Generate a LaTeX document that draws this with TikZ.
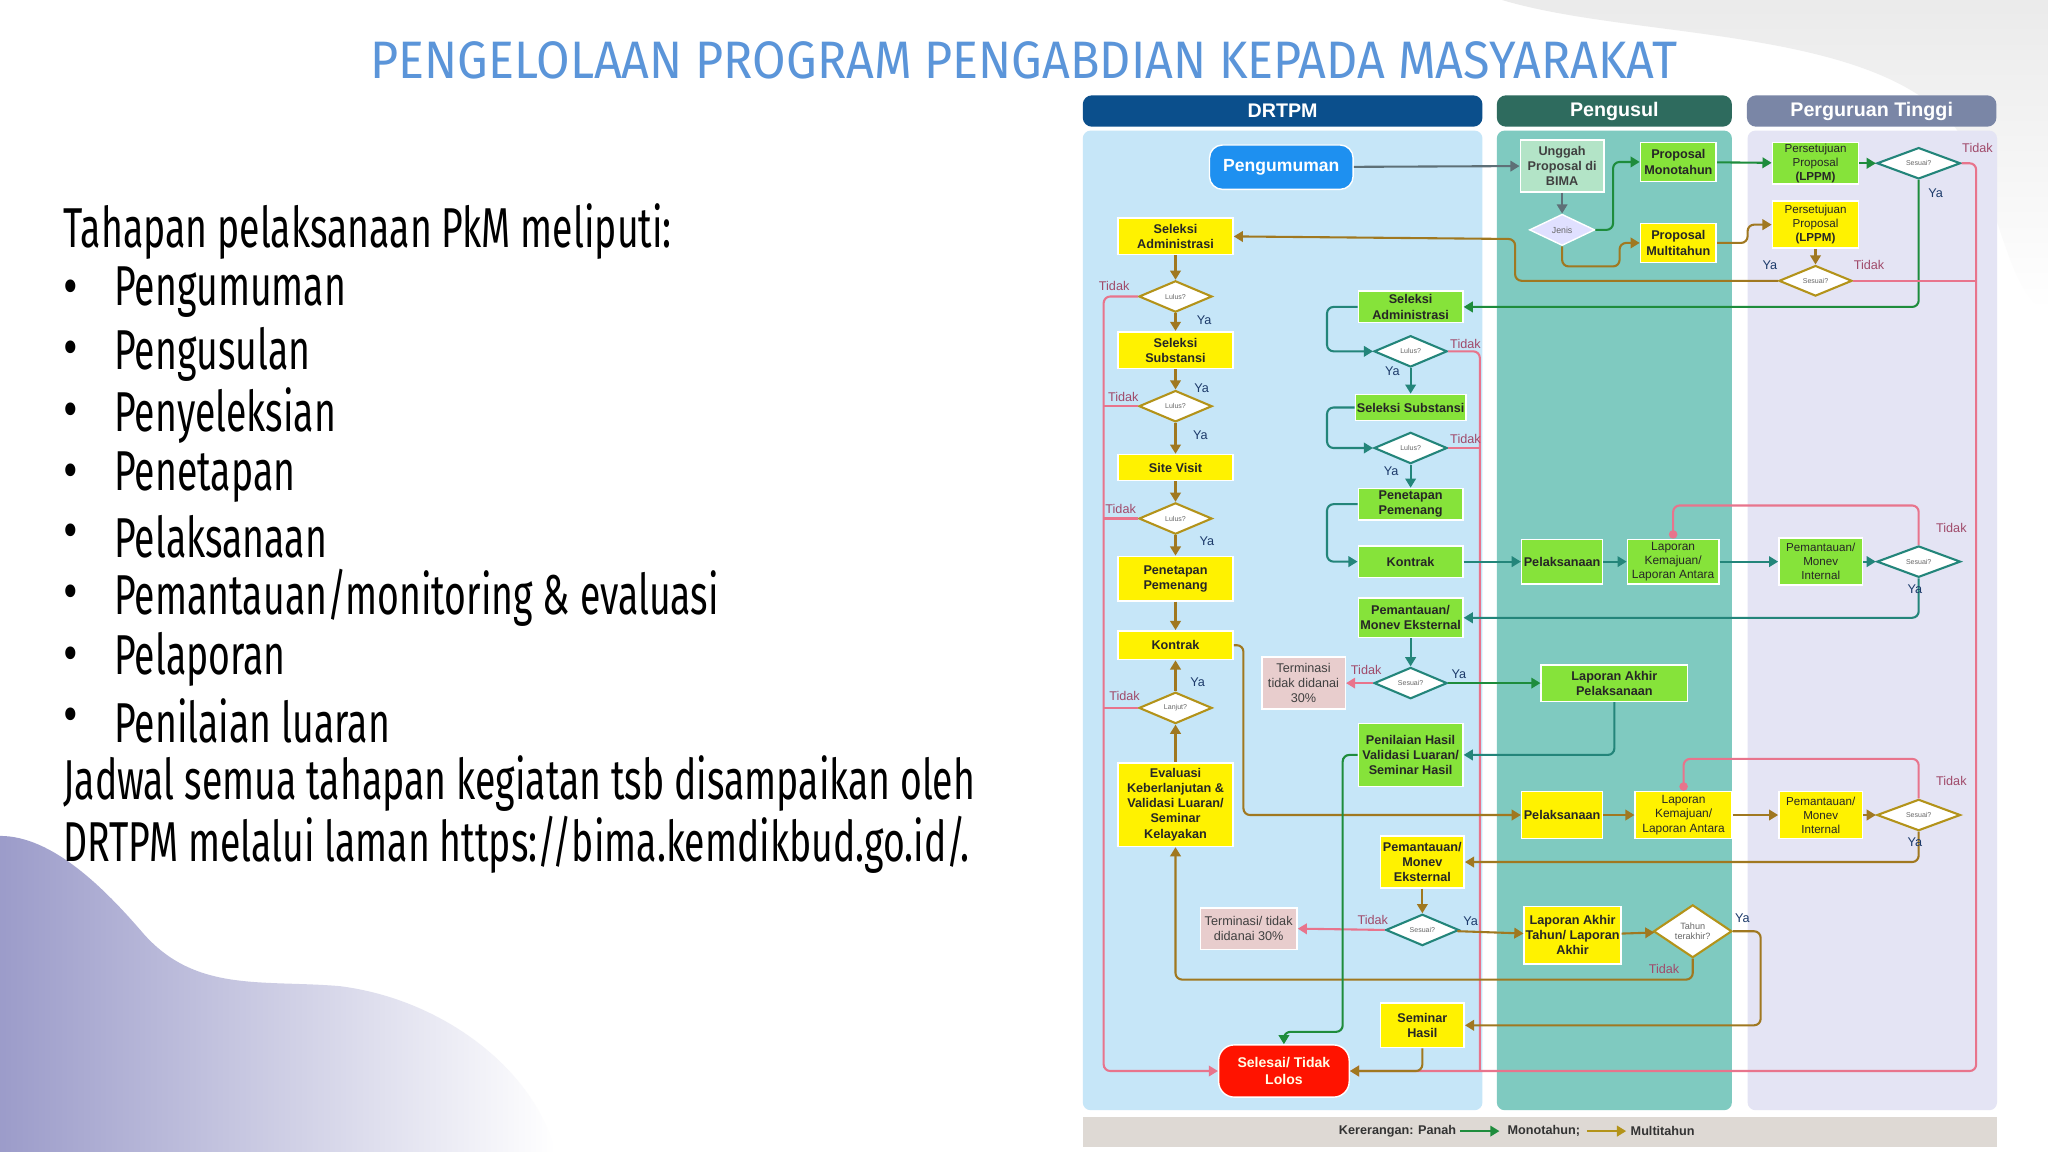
\documentclass[tikz,border=0pt]{standalone}
\usepackage{fontspec}
\usetikzlibrary{shapes.geometric,arrows.meta}
\newfontfamily\fsans{Liberation Sans}
\newfontfamily\fira{Fira Sans}
\newdimen\pu \pu=0.013061cm
\definecolor{yfill}{HTML}{FFF200}
\definecolor{gfill}{HTML}{86E33A}
\definecolor{brn}{HTML}{A07820}
\definecolor{grn}{HTML}{1E8C3C}
\definecolor{tl}{HTML}{23857A}
\definecolor{pk}{HTML}{E8748C}
\definecolor{gry}{HTML}{5E7077}
\definecolor{tidak}{HTML}{A04A6A}
\definecolor{yac}{HTML}{1C3A6A}
\definecolor{lane1}{HTML}{C6E6F8}
\definecolor{lane2}{HTML}{7FCAC0}
\definecolor{lane3}{HTML}{E4E4F4}
\definecolor{hd1}{HTML}{0B4F8C}
\definecolor{hd2}{HTML}{2E6B5E}
\definecolor{hd3}{HTML}{7A86A6}
\definecolor{ttl}{HTML}{5B95D9}
\definecolor{pgb}{HTML}{1E90F0}
\tikzset{
 nb/.style={draw=white,line width=1.2\pu,font=\fsans\bfseries\fontsize{3.6}{4.3}\selectfont,align=center,inner sep=1\pu,text=black!85},
 yb/.style={nb,fill=yfill},
 gb/.style={nb,fill=gfill},
 pb/.style={nb,fill=pink!70!gray!60,text=black!75,font=\fsans\fontsize{3.6}{4.3}\selectfont},
 dm/.style={diamond,fill=white,line width=1.6\pu,minimum width=56\pu,minimum height=24\pu,inner sep=0,font=\fsans\fontsize{2}{2.4}\selectfont,text=black!60},
 ydm/.style={dm,draw=brn!80!yellow},
 gdm/.style={dm,draw=tl},
 ln/.style={line width=1.6\pu,rounded corners=5\pu},
 ar/.style={ln,-{Triangle[length=2.6pt,width=3pt]}},
 ya/.style={font=\fsans\fontsize{3.6}{4.3}\selectfont,text=yac},
 td/.style={font=\fsans\fontsize{3.6}{4.3}\selectfont,text=tidak},
 hdr/.style={rounded corners=7\pu,text=white,font=\fsans\bfseries\fontsize{5.6}{6.5}\selectfont,minimum height=24\pu,inner sep=0},
 lt/.style={anchor=west,inner sep=0,font=\fira\fontsize{16}{19}\selectfont},
}
\begin{document}
\begin{tikzpicture}[x=0.013061cm,y=-0.013061cm]
\useasboundingbox (0,0) rectangle (1568,882);
\fill[white] (0,0) rectangle (1568,882);
% background decorations
\shade[left color=black!8,right color=white,shading angle=0] (1150,0) -- (1568,0) -- (1568,238) .. controls (1535,228) and (1530,140) .. (1495,95) .. controls (1430,20) and (1250,30) .. (1150,0) -- cycle;
\shade[left color=blue!30!gray!60,right color=white] (0,640) .. controls (40,640) and (80,680) .. (110,715) .. controls (150,760) and (200,750) .. (260,755) .. controls (340,765) and (410,820) .. (425,882) -- (0,882) -- cycle;
% title
\node[inner sep=0,text=ttl] (title) at (784,46) {\scalebox{0.92}[1]{\fira\fontsize{15}{18}\selectfont PENGELOLAAN PROGRAM PENGABDIAN KEPADA MASYARAKAT}};
% left text
\node[lt] (l0) at (48,177) {\scalebox{0.665}[1]{Tahapan pelaksanaan PkM meliputi:}};
\foreach \t/\yy [count=\i] in {Pengumuman/224,Pengusulan/271,Penyeleksian/318,Penetapan/365,Pelaksanaan/411,{Pemantauan/monitoring \& evaluasi}/458,Pelaporan/505,Penilaian luaran/552}{
 \node[lt] (b\i) at (48,\yy) {\scalebox{0.8}[1]{\textbullet}};
 \node[lt] (t\i) at (87,\yy) {\scalebox{0.665}[1]{\t}};
}
\node[lt] (l9) at (48,600) {\scalebox{0.665}[1]{Jadwal semua tahapan kegiatan tsb disampaikan oleh}};
\node[lt] (l10) at (48,647) {\scalebox{0.665}[1]{DRTPM melalui laman https://bima.kemdikbud.go.id/.}};
% lanes
\fill[lane1,rounded corners=6\pu] (829,100) rectangle (1135,850);
\fill[lane2,rounded corners=6\pu] (1146,100) rectangle (1326,850);
\fill[lane3,rounded corners=6\pu] (1338,100) rectangle (1529,850);
\node[hdr,fill=hd1,minimum width=306\pu] (h1) at (982,85) {DRTPM};
\node[hdr,fill=hd2,minimum width=180\pu] (h2) at (1236,85) {Pengusul};
\node[hdr,fill=hd3,minimum width=191\pu] (h3) at (1433,85) {Perguruan Tinggi};
\fill[brown!25!gray!30] (829,855) rectangle (1529,878);
% nodes DRTPM
\node[rounded corners=10\pu,fill=pgb,draw=white,text=white,font=\fsans\bfseries\fontsize{5}{6}\selectfont,minimum width=110\pu,minimum height=34\pu] (peng) at (981,128) {Pengumuman};
\node[yb,minimum width=88\pu,minimum height=28\pu] (sa1) at (900,181) {Seleksi\\Administrasi};
\node[ydm] (d1) at (900,227) {Lulus?};
\node[yb,minimum width=88\pu,minimum height=28\pu] (ss1) at (900,268) {Seleksi\\Substansi};
\node[ydm] (d2) at (900,311) {Lulus?};
\node[yb,minimum width=88\pu,minimum height=20\pu] (sv) at (900,358) {Site Visit};
\node[ydm] (d3) at (900,397) {Lulus?};
\node[yb,minimum width=88\pu,minimum height=34\pu] (pp1) at (900,443) {Penetapan\\Pemenang};
\node[yb,minimum width=88\pu,minimum height=22\pu] (k1) at (900,494) {Kontrak};
\node[ydm] (d4) at (900,542) {Lanjut?};
\node[yb,minimum width=88\pu,minimum height=64\pu] (ev) at (900,616) {Evaluasi\\Keberlanjutan \&\\Validasi Luaran/\\Seminar\\Kelayakan};
\node[pb,minimum width=64\pu,minimum height=40\pu] (tm1) at (998,523) {Terminasi\\tidak didanai\\30\%};
\node[pb,minimum width=74\pu,minimum height=32\pu] (tm2) at (956,711) {Terminasi/ tidak\\didanai 30\%};
\node[rounded corners=12\pu,fill=red!85!orange,draw=white,text=white!90!yellow,font=\fsans\bfseries\fontsize{4}{5}\selectfont,align=center,minimum width=100\pu,minimum height=40\pu] (sel) at (983,820) {Selesai/ Tidak\\Lolos};
\node[gb,minimum width=80\pu,minimum height=24\pu] (sa2) at (1080,235) {Seleksi\\Administrasi};
\node[gdm] (g1) at (1080,269) {Lulus?};
\node[gb,minimum width=80\pu,minimum height=20\pu] (ss2) at (1080,312) {Seleksi Substansi};
\node[gdm] (g2) at (1080,343) {Lulus?};
\node[gb,minimum width=80\pu,minimum height=24\pu] (pp2) at (1080,386) {Penetapan\\Pemenang};
\node[gb,minimum width=80\pu,minimum height=24\pu] (k2) at (1080,430) {Kontrak};
\node[gb,minimum width=80\pu,minimum height=30\pu] (pm2) at (1080,473) {Pemantauan/\\Monev Eksternal};
\node[gdm] (g3) at (1080,523) {Sesuai?};
\node[gb,minimum width=80\pu,minimum height=48\pu] (pn) at (1080,578) {Penilaian Hasil\\Validasi Luaran/\\Seminar Hasil};
\node[yb,minimum width=64\pu,minimum height=40\pu] (pmy) at (1089,660) {Pemantauan/\\Monev\\Eksternal};
\node[gdm] (y5) at (1089,712) {Sesuai?};
\node[yb,minimum width=64\pu,minimum height=34\pu] (sh) at (1089,785) {Seminar\\Hasil};
% Pengusul
\node[nb,fill=cyan!25!green!30,text=black!75,minimum width=64\pu,minimum height=40\pu] (ung) at (1196,127) {Unggah\\Proposal di\\BIMA};
\node[diamond,fill=blue!12!white,draw=white,minimum width=50\pu,minimum height=24\pu,inner sep=0,font=\fsans\fontsize{2.5}{3}\selectfont,text=black!60] (jen) at (1196,176) {Jenis};
\node[gb,minimum width=58\pu,minimum height=30\pu] (pmo) at (1285,124) {Proposal\\Monotahun};
\node[yb,minimum width=58\pu,minimum height=30\pu] (pmu) at (1285,186) {Proposal\\Multitahun};
\node[gb,minimum width=62\pu,minimum height=34\pu] (pl1) at (1196,430) {Pelaksanaan};
\node[gb,minimum width=70\pu,minimum height=34\pu,font=\fsans\fontsize{3.4}{4.1}\selectfont] (lk1) at (1281,430) {Laporan\\Kemajuan/\\Laporan Antara};
\node[gb,minimum width=112\pu,minimum height=28\pu] (lap) at (1236,523) {Laporan Akhir\\Pelaksanaan};
\node[yb,minimum width=62\pu,minimum height=36\pu] (pl2) at (1196,624) {Pelaksanaan};
\node[yb,minimum width=74\pu,minimum height=36\pu,font=\fsans\fontsize{3.4}{4.1}\selectfont] (lk2) at (1289,624) {Laporan\\Kemajuan/\\Laporan Antara};
\node[yb,minimum width=74\pu,minimum height=44\pu] (lat) at (1204,716) {Laporan Akhir\\Tahun/ Laporan\\Akhir};
\node[ydm,minimum width=60\pu,minimum height=34\pu,align=center,font=\fsans\fontsize{2.6}{3}\selectfont] (th) at (1296,713) {Tahun\\terakhir?};
% PT
\node[gb,minimum width=66\pu,minimum height=32\pu,font=\fsans\fontsize{3.3}{4}\selectfont] (ps1) at (1390,125) {Persetujuan\\Proposal\\\textbf{(LPPM)}};
\node[gdm,minimum width=64\pu] (p1) at (1469,125) {Sesuai?};
\node[yb,minimum width=66\pu,minimum height=36\pu,font=\fsans\fontsize{3.3}{4}\selectfont] (ps2) at (1390,172) {Persetujuan\\Proposal\\\textbf{(LPPM)}};
\node[ydm,minimum height=20\pu] (p2) at (1390,215) {Sesuai?};
\node[gb,minimum width=64\pu,minimum height=36\pu,font=\fsans\fontsize{3.3}{4}\selectfont] (mi1) at (1394,430) {Pemantauan/\\Monev\\Internal};
\node[gdm,minimum width=64\pu] (p3) at (1469,430) {Sesuai?};
\node[yb,minimum width=64\pu,minimum height=36\pu,font=\fsans\fontsize{3.3}{4}\selectfont] (mi2) at (1394,624) {Pemantauan/\\Monev\\Internal};
\node[ydm,minimum width=64\pu] (p4) at (1469,624) {Sesuai?};
% connectors grey
\draw[ar,gry] (peng) -- (ung);
\draw[ar,gry] (ung) -- (jen);
% proposal routes
\draw[ar,grn] (jen.east) -| (1235,124) -- (pmo.west);
\draw[ar,brn] (jen.south) -- (1196,204) -- (1240,204) -- (1240,186) -- (pmu.west);
\draw[ar,grn] (pmo) -- (ps1);
\draw[ar,brn] (pmu.east) -- (1338,186) -- (1338,172) -- (ps2.west);
\draw[ar,grn] (ps1) -- (p1);
\draw[ar,brn] (ps2) -- (p2);
\draw[ar,grn] (p1.south) |- (sa2.east);
\draw[ar,brn] (p2.west) -| (1160,183) -- (sa1.east);
% pink failure lines
\draw[ar,pk] (p1.east) -| (1513,820) -- (sel.east);
\draw[ln,pk] (p2.east) -- (1513,215);
\draw[ar,pk] (d1.west) -| (845,820) -- (sel.west);
\draw[ln,pk] (d2.west) -- (845,311);
\draw[ln,pk] (d3.west) -- (845,397);
\draw[ln,pk] (d4.west) -- (845,542);
\draw[ln,pk] (g1.east) -| (1133,820);
\draw[ln,pk] (g2.east) -- (1133,343);
\draw[ar,pk] (g3.west) -- (tm1.east);
\draw[ar,pk] (y5.west) -- (tm2.east);
\draw[ln,pk,-{Circle[length=2.4pt]}] (p3.north) |- (1281,387) -- (lk1.north);
\draw[ln,pk,-{Circle[length=2.4pt]}] (p4.north) |- (1289,581) -- (lk2.north);
% yellow chain
\draw[ar,brn] (sa1) -- (d1);
\draw[ar,brn] (d1) -- (ss1);
\draw[ar,brn] (ss1) -- (d2);
\draw[ar,brn] (d2) -- (sv);
\draw[ar,brn] (sv) -- (d3);
\draw[ar,brn] (d3) -- (pp1);
\draw[ar,brn] (pp1) -- (k1);
\draw[ar,brn] (ev) -- (d4);
\draw[ar,brn] (d4) -- (k1);
\draw[ar,brn] (k1.east) -- (952,494) -- (952,624) -- (pl2.west);
\draw[ar,brn] (pl2) -- (lk2);
\draw[ar,brn] (lk2) -- (mi2);
\draw[ar,brn] (mi2) -- (p4);
\draw[ar,brn] (p4.south) |- (pmy.east);
\draw[ar,brn] (pmy) -- (y5);
\draw[ar,brn] (y5) -- (lat);
\draw[ar,brn] (lat) -- (th);
\draw[ar,brn] (th.east) -- (1348,713) -- (1348,785) -- (sh.east);
\draw[ar,brn] (th.south) -- (1296,750) -- (900,750) -- (ev.south);
\draw[ar,brn] (sh.south) |- (sel.east);
% green chain
\draw[ar,tl] (sa2.west) -- (1016,235) -- (1016,269) -- (g1.west);
\draw[ar,tl] (g1) -- (ss2);
\draw[ar,tl] (ss2.west) -- (1016,312) -- (1016,343) -- (g2.west);
\draw[ar,tl] (g2) -- (pp2);
\draw[ar,tl] (pp2.west) -- (1016,386) -- (1016,430) -- (k2.west);
\draw[ar,tl] (k2) -- (pl1);
\draw[ar,tl] (pl1) -- (lk1);
\draw[ar,tl] (lk1) -- (mi1);
\draw[ar,tl] (mi1) -- (p3);
\draw[ar,tl] (p3.south) |- (pm2.east);
\draw[ar,tl] (pm2) -- (g3);
\draw[ar,grn] (g3.east) -- (lap.west);
\draw[ar,tl] (lap.south) |- (pn.east);
\draw[ar,grn] (pn.west) -- (1028,578) -- (1028,790) -- (983,790) -- (sel.north);
% labels
\node[td] (tA) at (853,219) {Tidak};
\node[td] (tB) at (860,304) {Tidak};
\node[td] (tC) at (858,390) {Tidak};
\node[td] (tD) at (861,533) {Tidak};
\node[td] (tE) at (1122,263) {Tidak};
\node[td] (tF) at (1122,336) {Tidak};
\node[td] (tG) at (1046,513) {Tidak};
\node[td] (tH) at (1051,704) {Tidak};
\node[td] (tI) at (1514,113) {Tidak};
\node[td] (tJ) at (1431,203) {Tidak};
\node[td] (tK) at (1494,404) {Tidak};
\node[td] (tL) at (1494,598) {Tidak};
\node[td] (tM) at (1274,742) {Tidak};
\node[ya] (yA) at (922,245) {Ya};
\node[ya] (yB) at (920,297) {Ya};
\node[ya] (yC) at (919,333) {Ya};
\node[ya] (yD) at (924,414) {Ya};
\node[ya] (yE) at (917,522) {Ya};
\node[ya] (yF) at (1066,284) {Ya};
\node[ya] (yG) at (1065,361) {Ya};
\node[ya] (yH) at (1117,516) {Ya};
\node[ya] (yI) at (1126,705) {Ya};
\node[ya] (yJ) at (1482,148) {Ya};
\node[ya] (yK) at (1355,203) {Ya};
\node[ya] (yL) at (1466,451) {Ya};
\node[ya] (yM) at (1466,645) {Ya};
\node[ya] (yN) at (1334,703) {Ya};
% legend
\node[font=\fsans\bfseries\fontsize{3.6}{4.3}\selectfont,text=black!80] (lg1) at (1070,866) {Kererangan: Panah};
\coordinate (la) at (1118,866); \coordinate (lb) at (1148,866);
\draw[ar,grn] (la) -- (lb);
\node[font=\fsans\bfseries\fontsize{3.6}{4.3}\selectfont,text=black!80] (lg2) at (1182,866) {Monotahun;};
\coordinate (lc) at (1215,866); \coordinate (ld) at (1245,866);
\draw[ar,brn!80!yellow] (lc) -- (ld);
\node[font=\fsans\bfseries\fontsize{3.6}{4.3}\selectfont,text=black!80] (lg3) at (1273,866) {Multitahun};
\end{tikzpicture}
\end{document}
